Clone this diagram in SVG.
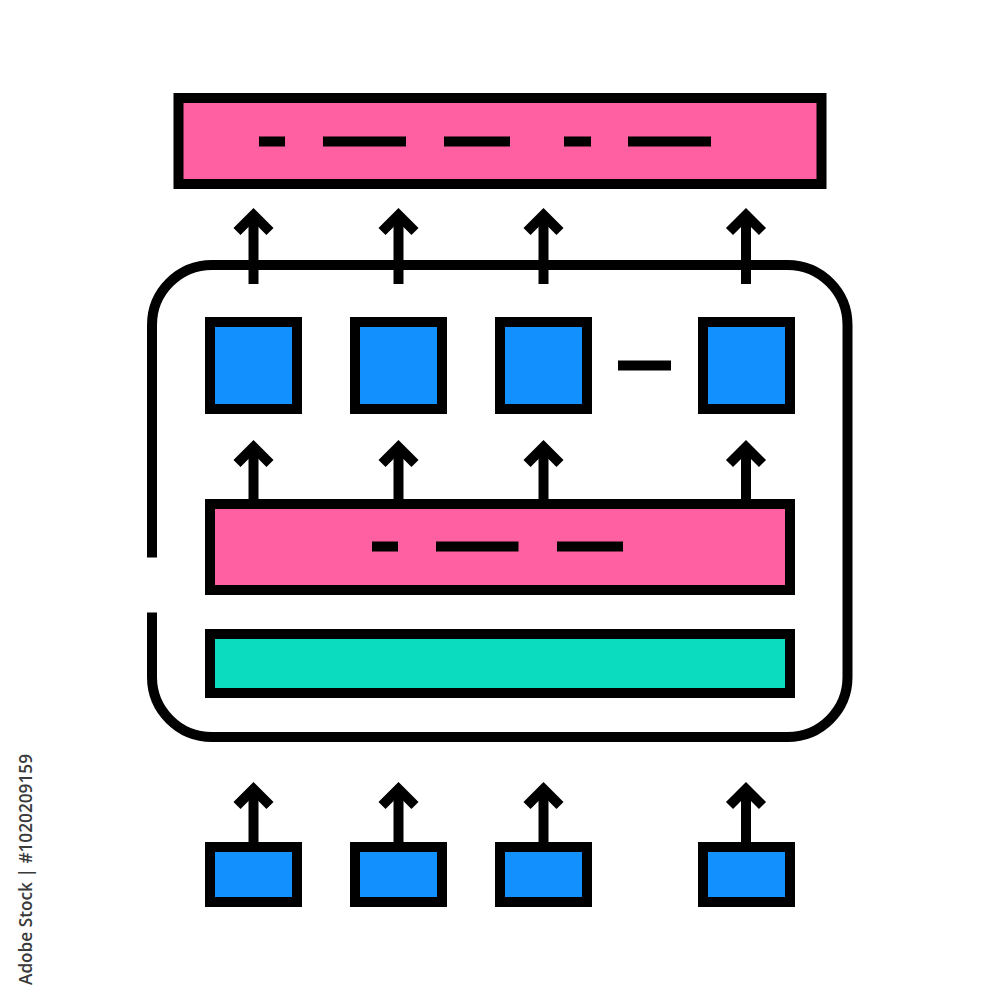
<svg xmlns="http://www.w3.org/2000/svg" width="1000" height="1000" viewBox="0 0 1000 1000">
<style>
.box{stroke:#000;stroke-width:10;stroke-linejoin:miter}
.pink{fill:#FE60A1}
.blue{fill:#1291FE}
.teal{fill:#0BDCC0}
.ln{stroke:#000;stroke-width:10;fill:none;stroke-linecap:butt;stroke-linejoin:miter}
.dash{stroke:#000;stroke-width:10;stroke-linecap:butt}
.wm{font-family:"Open Sans","Liberation Sans",sans-serif;font-size:17.5px;font-weight:600;fill:#3a3a3a}
</style>
<defs>
<g id="arrowhead"><polyline class="ln" points="-16.5,16.5 0,0 16.5,16.5"/></g>
</defs>
<rect width="1000" height="1000" fill="#fff"/>

<g id="container">
<path class="ln" d="M152,557.5 V325 A60,60 0 0 1 212,265 H787.5 A60,60 0 0 1 847.5,325 V677 A60,60 0 0 1 787.5,737 H212 A60,60 0 0 1 152,677 V612.5"/>
</g>

<g id="connectors">
<g id="arrows-top">
<line class="ln" x1="253.5" y1="215" x2="253.5" y2="284"/><use href="#arrowhead" x="253.5" y="215"/>
<line class="ln" x1="398.5" y1="215" x2="398.5" y2="284"/><use href="#arrowhead" x="398.5" y="215"/>
<line class="ln" x1="543.5" y1="215" x2="543.5" y2="284"/><use href="#arrowhead" x="543.5" y="215"/>
<line class="ln" x1="746" y1="215" x2="746" y2="284"/><use href="#arrowhead" x="746" y="215"/>
</g>
<g id="arrows-middle">
<line class="ln" x1="253.5" y1="447" x2="253.5" y2="504"/><use href="#arrowhead" x="253.5" y="447"/>
<line class="ln" x1="398.5" y1="447" x2="398.5" y2="504"/><use href="#arrowhead" x="398.5" y="447"/>
<line class="ln" x1="543.5" y1="447" x2="543.5" y2="504"/><use href="#arrowhead" x="543.5" y="447"/>
<line class="ln" x1="746" y1="447" x2="746" y2="504"/><use href="#arrowhead" x="746" y="447"/>
</g>
<g id="arrows-bottom">
<line class="ln" x1="253.5" y1="789" x2="253.5" y2="847"/><use href="#arrowhead" x="253.5" y="789"/>
<line class="ln" x1="398.5" y1="789" x2="398.5" y2="847"/><use href="#arrowhead" x="398.5" y="789"/>
<line class="ln" x1="543.5" y1="789" x2="543.5" y2="847"/><use href="#arrowhead" x="543.5" y="789"/>
<line class="ln" x1="746" y1="789" x2="746" y2="847"/><use href="#arrowhead" x="746" y="789"/>
</g>
<line id="link-dash" class="dash" x1="618" y1="365.5" x2="671" y2="365.5"/>
</g>

<g id="top-bar">
<rect class="box pink" x="178.5" y="98" width="643" height="86"/>
<line class="dash" x1="259" y1="141.5" x2="285" y2="141.5"/>
<line class="dash" x1="323" y1="141.5" x2="406" y2="141.5"/>
<line class="dash" x1="444" y1="141.5" x2="510" y2="141.5"/>
<line class="dash" x1="564" y1="141.5" x2="591" y2="141.5"/>
<line class="dash" x1="628" y1="141.5" x2="711" y2="141.5"/>
</g>

<g id="square-1"><rect class="box blue" x="210" y="322" width="87" height="87"/></g>
<g id="square-2"><rect class="box blue" x="355" y="322" width="87" height="87"/></g>
<g id="square-3"><rect class="box blue" x="500" y="322" width="87" height="87"/></g>
<g id="square-4"><rect class="box blue" x="703" y="322" width="87" height="87"/></g>

<g id="middle-bar">
<rect class="box pink" x="210" y="504" width="580" height="86"/>
<line class="dash" x1="372" y1="546.5" x2="398" y2="546.5"/>
<line class="dash" x1="436" y1="546.5" x2="518.5" y2="546.5"/>
<line class="dash" x1="557" y1="546.5" x2="623" y2="546.5"/>
</g>

<g id="teal-bar"><rect class="box teal" x="210" y="634" width="580" height="59"/></g>

<g id="input-1"><rect class="box blue" x="210" y="847" width="87" height="55"/></g>
<g id="input-2"><rect class="box blue" x="355" y="847" width="87" height="55"/></g>
<g id="input-3"><rect class="box blue" x="500" y="847" width="87" height="55"/></g>
<g id="input-4"><rect class="box blue" x="703" y="847" width="87" height="55"/></g>

<text class="wm" transform="translate(31.5,985) rotate(-90)" textLength="231" lengthAdjust="spacingAndGlyphs">Adobe Stock | #1020209159</text>
</svg>
